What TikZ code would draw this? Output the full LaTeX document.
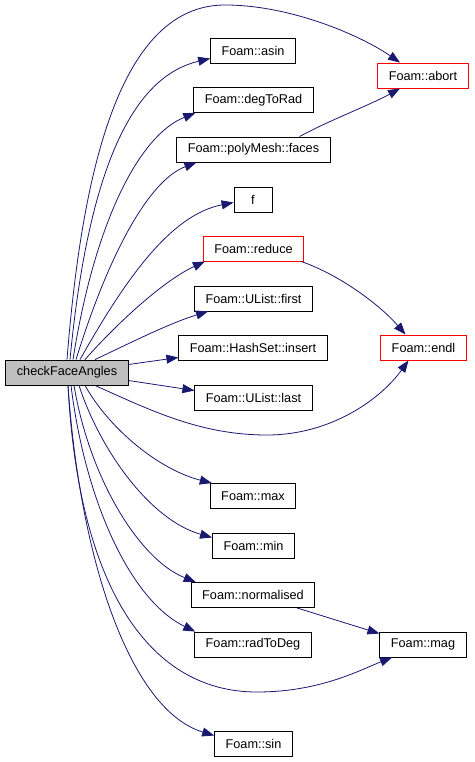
\documentclass[tikz,border=0pt]{standalone}
\usepackage{fontspec}
\setmainfont{Liberation Sans}
\usepackage{tikz}
\usetikzlibrary{arrows.meta}
\definecolor{edgeblue}{RGB}{25,25,112}
\definecolor{rootgray}{RGB}{191,191,191}
\definecolor{linkred}{RGB}{255,0,0}
\tikzset{
  block/.style={rectangle, draw=black, fill=white,
    minimum width=38pt, minimum height=25pt, inner xsep=11pt, inner ysep=2pt,
    font=\fontsize{12.7}{15}\selectfont, line width=0.9pt},
  redblock/.style={block, draw=linkred},
  rootblock/.style={block, fill=rootgray},
  arrow/.style={-{Triangle[length=12pt, width=9pt]}, line width=0.8pt, color=edgeblue}
}

\begin{document}
\begin{tikzpicture}[x=1pt, y=-1pt]
  \useasboundingbox (0,0) rectangle (474,762);

  % Caller
  \node[rootblock] (check) at (67,372.5) {checkFaceAngles};

  % Callees (middle column)
  \node[block] (asin) at (253,50.5) {Foam::asin};
  \node[block] (deg) at (253.5,100) {Foam::degToRad};
  \node[block] (faces) at (253.5,149.5) {Foam::polyMesh::faces};
  \node[block] (f) at (253,199.5) {f};
  \node[redblock] (reduce) at (253.5,248.5) {Foam::reduce};
  \node[block] (first) at (253.5,298.5) {Foam::UList::first};
  \node[block] (insert) at (253,347.5) {Foam::HashSet::insert};
  \node[block] (last) at (253.5,397.5) {Foam::UList::last};
  \node[block] (max) at (253,496) {Foam::max};
  \node[block] (min) at (253.5,545.5) {Foam::min};
  \node[block] (norm) at (253,595) {Foam::normalised};
  \node[block] (rad) at (253,644.5) {Foam::radToDeg};
  \node[block] (sin) at (253.5,743.5) {Foam::sin};

  % Callees (right column)
  \node[redblock] (abort) at (423,75.5) {Foam::abort};
  \node[redblock] (endl) at (423.5,347.5) {Foam::endl};
  \node[block] (mag) at (423,644.5) {Foam::mag};

  % Calls going up
  \draw[arrow] (check.north) .. controls (82,170) and (120,5) .. (225,5)
    .. controls (290,5) and (360,35) .. ([xshift=-23pt]abort.north);
  \draw[arrow] ([xshift=3pt]check.north) .. controls (90,150) and (140,75) .. ([yshift=-8pt]asin.west);
  \draw[arrow] ([xshift=6pt]check.north) .. controls (95,220) and (140,135) .. ([xshift=2pt]deg.south west);
  \draw[arrow] ([xshift=9pt]check.north) .. controls (110,250) and (150,180) .. ([xshift=20pt]faces.south west);
  \draw[arrow] ([xshift=13pt]check.north) .. controls (125,280) and (170,215) .. ([yshift=-3pt]f.west);
  \draw[arrow] ([xshift=18pt]check.north) .. controls (120,320) and (165,280) .. ([xshift=2pt]reduce.south west);
  \draw[arrow] ([xshift=28pt]check.north) .. controls (130,343) and (170,323) .. ([xshift=14pt]first.south west);

  % Calls to the side
  \draw[arrow] ([yshift=8pt]check.east) -- ([yshift=-10pt]insert.west);
  \draw[arrow] ([yshift=-8pt]check.east) -- ([yshift=7pt]last.west);

  % Calls going down
  \draw[arrow] ([xshift=28pt]check.south) .. controls (150,410) and (200,435) .. (267,435)
    .. controls (330,435) and (380,400) .. ([xshift=-15pt]endl.south);
  \draw[arrow] ([xshift=18pt]check.south) .. controls (110,430) and (160,470) .. ([xshift=2pt]max.north west);
  \draw[arrow] ([xshift=12pt]check.south) .. controls (100,450) and (150,520) .. ([yshift=8pt]min.west);
  \draw[arrow] ([xshift=7pt]check.south) .. controls (90,480) and (140,560) .. ([xshift=5pt]norm.north west);
  \draw[arrow] ([xshift=4pt]check.south) .. controls (85,500) and (130,600) .. ([xshift=1pt]rad.north west);
  \draw[arrow] ([xshift=1pt]check.south) .. controls (78,580) and (145,692) .. (257,692)
    .. controls (320,692) and (360,670) .. ([xshift=-31pt]mag.south);
  \draw[arrow] ([xshift=1pt]check.south) .. controls (80,560) and (130,710) .. ([yshift=8pt]sin.west);

  % Second level calls
  \draw[arrow] ([xshift=46pt]faces.north) .. controls (330,120) and (370,105) .. ([xshift=-23pt]abort.south);
  \draw[arrow] ([xshift=-3pt]reduce.south east) .. controls (340,275) and (380,305) .. ([xshift=-18pt]endl.north);
  \draw[arrow] ([xshift=44pt]norm.south) -- ([yshift=-2pt]mag.north west);
\end{tikzpicture}
\end{document}
